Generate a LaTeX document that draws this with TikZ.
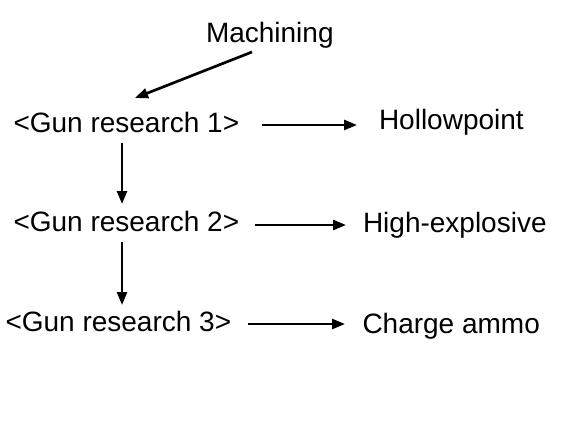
\documentclass[tikz,border=0pt]{standalone}
\usepackage{fontspec}
\setmainfont{Liberation Sans}
\usetikzlibrary{arrows.meta}
\tikzset{
  lbl/.style={inner sep=0pt, outer sep=0pt, anchor=base west, font=\fontsize{28}{34}\selectfont},
  arr/.style={line width=2.7pt, -{Triangle[length=13pt,width=10pt]}}
}
\begin{document}
\begin{tikzpicture}[x=1pt,y=1pt]
\useasboundingbox[fill=white] (0,0) rectangle (576,432);
\node[lbl] (mach) at (206,389) {Machining};
\node[lbl] (g1) at (13.5,299) {<Gun research 1>};
\node[lbl] (g2) at (13.5,201) {<Gun research 2>};
\node[lbl] (g3) at (5.5,101) {<Gun research 3>};
\node[lbl] (h1) at (379,302) {Hollowpoint};
\node[lbl] (h2) at (363,200) {High-explosive};
\node[lbl] (h3) at (362.5,99) {Charge ammo};
% Machining -> Gun research 1
\draw[arr] ([xshift=46pt,yshift=-9pt]mach.base west) -- ([xshift=121.5pt,yshift=35pt]g1.base west);
% horizontal arrows
\coordinate (r1s) at ([xshift=23pt,yshift=8pt]g1.base east);
\coordinate (r1e) at ([xshift=-22pt]h1.west);
\draw[arr] (r1s) -- (r1s -| r1e);
\coordinate (r2s) at ([xshift=16pt,yshift=6pt]g2.base east);
\coordinate (r2e) at ([xshift=-17pt]h2.west);
\draw[arr] (r2s) -- (r2s -| r2e);
\coordinate (r3s) at ([xshift=17pt,yshift=7pt]g3.base east);
\coordinate (r3e) at ([xshift=-17.5pt]h3.west);
\draw[arr] (r3s) -- (r3s -| r3e);
% vertical arrows
\coordinate (v1s) at ([xshift=108.5pt,yshift=-10pt]g1.base west);
\coordinate (v1e) at ([yshift=27pt]g2.base west);
\draw[arr] (v1s) -- (v1s |- v1e);
\coordinate (v2s) at ([xshift=108.5pt,yshift=-11pt]g2.base west);
\coordinate (v2e) at ([yshift=26pt]g3.base west);
\draw[arr] (v2s) -- (v2s |- v2e);
\end{tikzpicture}
\end{document}
